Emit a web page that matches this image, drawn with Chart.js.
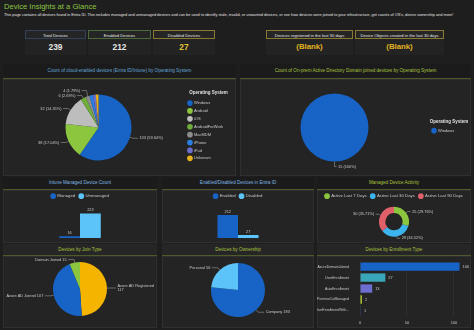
<!DOCTYPE html>
<html>
<head>
<meta charset="utf-8">
<script src="https://cdn.jsdelivr.net/npm/chart.js@4.4.1/dist/chart.umd.min.js"></script>
<style>
  body { margin: 0; width: 474px; height: 330px; background: #1e1e1e; overflow: hidden; position: relative; font-family: "Liberation Sans", Arial, sans-serif; }
  .abs { position: absolute; }
  .hdr { position: absolute; text-align: center; font-size: 4.6px; border-bottom: 1px solid #4d5a2a; background: #1b1b1b; white-space: nowrap; }
  .body { position: absolute; background: #242424; border: 1px solid #2f2f2f; box-sizing: border-box; }
  .kh { position: absolute; height: 9px; line-height: 9px; font-size: 4.2px; color: #e8e8e8; text-align: center; box-sizing: border-box; border: 1px solid; background: #252525; white-space: nowrap; }
  .kv { position: absolute; height: 16px; line-height: 16px; font-weight: bold; text-align: center; background: #232323; }
  canvas { position: absolute; }
</style>
</head>
<body>
<div class="abs" style="left:4px;top:2px;font-size:7.6px;color:#8cc63f;">Device Insights at a Glance</div>
<div id="sub" class="abs" style="left:4px;top:12px;font-size:4px;color:#e6e6e6;white-space:nowrap;transform-origin:0 0;">This page contains all devices found in Entra ID. This includes managed and unmanaged devices and can be used to identify stale, invalid, or unwanted devices, or see how devices were joined to your infrastructure, get counts of OS's, device ownership and more!</div>
<div id="kpis"></div>

<div class="hdr" style="left:3px;top:64px;width:233px;height:14px;line-height:14px;color:#62a6d8;">Count of cloud-enabled devices (Entra ID/Intune) by Operating System</div>
<div class="hdr" style="left:240px;top:64px;width:231px;height:14px;line-height:14px;color:#a9c23f;">Count of On-prem Active Directory Domain joined devices by Operating System</div>
<div class="body" style="left:3px;top:79px;width:233px;height:97px;"></div>
<div class="body" style="left:240px;top:79px;width:231px;height:97px;"></div>

<div class="hdr" style="left:3px;top:177px;width:154px;height:12px;line-height:12px;color:#7fb6e2;">Intune Managed Device Count</div>
<div class="hdr" style="left:162px;top:177px;width:152px;height:12px;line-height:12px;color:#7fb6e2;">Enabled/Disabled Devices in Entra ID</div>
<div class="hdr" style="left:317px;top:177px;width:154px;height:12px;line-height:12px;color:#a9c23f;">Managed Device Activity</div>
<div class="body" style="left:3px;top:190px;width:154px;height:53px;"></div>
<div class="body" style="left:162px;top:190px;width:152px;height:53px;"></div>
<div class="body" style="left:317px;top:190px;width:154px;height:53px;"></div>

<div class="hdr" style="left:3px;top:244px;width:154px;height:11px;line-height:11px;color:#a9c23f;background:#262626;">Devices by Join Type</div>
<div class="hdr" style="left:162px;top:244px;width:152px;height:11px;line-height:11px;color:#a9c23f;background:#262626;">Devices by Ownership</div>
<div class="hdr" style="left:317px;top:244px;width:154px;height:11px;line-height:11px;color:#a9c23f;background:#262626;">Devices by Enrollment Type</div>
<div class="body" style="left:3px;top:256px;width:154px;height:72px;"></div>
<div class="body" style="left:162px;top:256px;width:152px;height:72px;"></div>
<div class="body" style="left:317px;top:256px;width:154px;height:72px;"></div>

<canvas id="osCloud" width="233" height="97" style="left:3px;top:79px;"></canvas>
<canvas id="osOnPrem" width="231" height="97" style="left:240px;top:79px;"></canvas>
<canvas id="managed" width="154" height="53" style="left:3px;top:190px;"></canvas>
<canvas id="enabled" width="152" height="53" style="left:162px;top:190px;"></canvas>
<canvas id="activity" width="154" height="53" style="left:317px;top:190px;"></canvas>
<canvas id="joinType" width="154" height="72" style="left:3px;top:256px;"></canvas>
<canvas id="ownership" width="152" height="72" style="left:162px;top:256px;"></canvas>
<canvas id="enrollment" width="154" height="72" style="left:317px;top:256px;"></canvas>

<script>
const kpiLabels = ['Total Devices', 'Enabled Devices', 'Disabled Devices'];
const kpiValues = [239, 212, 27];
const recentLabels = ['Devices registered in the last 30 days', 'Device Objects created in the last 30 days'];
const recentValues = ['(Blank)', '(Blank)'];

const osCategories = ['Windows', 'Android', 'iOS', 'AndroidForWork', 'MacMDM', 'iPhone', 'iPad', 'Unknown'];
const osCloudCounts = [133, 38, 32, 6, 4, 4, 3, 3];
const osOnPremCategories = ['Windows'];
const osOnPremCounts = [15];

const managedCategories = ['Managed', 'Unmanaged'];
const managedCounts = [16, 223];
const enabledCategories = ['Enabled', 'Disabled'];
const enabledCounts = [212, 27];

const activityCategories = ['Active Last 7 Days', 'Active Last 30 Days', 'Active Last 90 Days'];
const activityCounts = [25, 29, 30];

const joinCategories = ['Azure AD Registered', 'Azure AD Joined', 'Domain Joined'];
const joinCounts = [117, 107, 15];
const ownershipCategories = ['Company', 'Personal'];
const ownershipCounts = [183, 56];

const enrollmentCategories = ['AzureDomainJoined', 'UserEnrollment', 'AutoEnrollment', 'OnPremiseCoManaged', 'UserEnrollmentWithServiceAccount'];
const enrollmentCounts = [106, 27, 13, 2, 1];
const enrollmentTicks = [0, 50, 100];

// kpi cards
const kpiBox = [[25, 61, '#34415a', '#e6e6e6'], [88, 63, '#4b6a3a', '#e6e6e6'], [153, 62, '#8a7a30', '#e3c23a']];
const recentBox = [[266, 87], [355, 89]];
let html = '';
kpiLabels.forEach((l, i) => {
  const [x, w, bc, vc] = kpiBox[i];
  html += `<div class="kh" style="left:${x}px;top:30px;width:${w}px;border-color:${bc}">${l}</div>`;
  html += `<div class="kv" style="left:${x}px;top:39px;width:${w}px;font-size:8.4px;color:${vc}">${kpiValues[i]}</div>`;
});
recentLabels.forEach((l, i) => {
  const [x, w] = recentBox[i];
  html += `<div class="kh" style="left:${x}px;top:30px;width:${w}px;border-color:#8a7a30">${l}</div>`;
  html += `<div class="kv" style="left:${x}px;top:39px;width:${w}px;font-size:7.8px;color:#e3b321">${recentValues[i]}</div>`;
});
document.getElementById('kpis').innerHTML = html;

const sub = document.getElementById('sub');
sub.style.transform = 'scaleX(' + (449 / sub.scrollWidth) + ')';

Chart.defaults.font.family = '"Liberation Sans", Arial, sans-serif';
Chart.defaults.color = '#c8c8c8';
Chart.defaults.animation = false;

const fnt = 4.3;
const lblFnt = 3.9;
const lblColor = '#c8c8c8';

function splitText(ctx, text, maxW) {
  if (!maxW || ctx.measureText(text).width <= maxW) return [text];
  const k = text.lastIndexOf(' ');
  return [text.slice(0, k), text.slice(k + 1)];
}

// labels outside pie slices with leader lines
const pieLabels = {
  id: 'pieLabels',
  afterDatasetsDraw(chart, args, opts) {
    const ctx = chart.ctx;
    const ds = chart.data.datasets[0];
    const total = ds.data.reduce((a, b) => a + b, 0);
    const placed = [];
    const lh = lblFnt * 1.2;
    ctx.save();
    ctx.font = lblFnt + 'px "Liberation Sans"';
    ctx.strokeStyle = '#9a9a9a';
    ctx.fillStyle = lblColor;
    ctx.lineWidth = 0.6;
    chart.getDatasetMeta(0).data.forEach((arc, i) => {
      const a = arc.getProps(['x', 'y', 'startAngle', 'endAngle', 'outerRadius'], true);
      const mid = (a.startAngle + a.endAngle) / 2;
      const c = Math.cos(mid), s = Math.sin(mid);
      const right = c >= -1e-6;
      const x1 = a.x + c * a.outerRadius, y1 = a.y + s * a.outerRadius;
      const x2 = a.x + c * (a.outerRadius + opts.radial);
      let y2 = a.y + s * (a.outerRadius + opts.radial);
      const lines = splitText(ctx, opts.format(chart.data.labels[i], ds.data[i], total), opts.maxWidth);
      const h = lines.length * lh;
      const up = y2 < a.y;
      let shift = 0;
      placed.forEach(b => {
        if (b.right !== right) return;
        if (y2 - h / 2 < b.y + b.h && y2 + h / 2 > b.y) {
          const ny = up ? b.y - h / 2 - 0.3 : b.y + b.h + h / 2 + 0.3;
          shift += Math.abs(ny - y2);
          y2 = ny;
        }
      });
      if (shift > opts.maxShift) return;
      placed.push({ right, y: y2 - h / 2, h });
      const x3 = x2 + (right ? opts.horiz : -opts.horiz);
      ctx.beginPath();
      ctx.moveTo(x1, y1);
      ctx.lineTo(x2, y2);
      ctx.lineTo(x3, y2);
      ctx.stroke();
      ctx.textAlign = right ? 'left' : 'right';
      ctx.textBaseline = 'middle';
      lines.forEach((l, k) => ctx.fillText(l, x3 + (right ? 1.5 : -1.5), y2 - h / 2 + lh * (k + 0.5)));
    });
    ctx.restore();
  }
};

// value labels on bars
const barValues = {
  id: 'barValues',
  afterDatasetsDraw(chart) {
    const ctx = chart.ctx;
    const horizontal = chart.options.indexAxis === 'y';
    ctx.save();
    ctx.font = lblFnt + 'px "Liberation Sans"';
    ctx.fillStyle = lblColor;
    chart.data.datasets.forEach((ds, di) => {
      chart.getDatasetMeta(di).data.forEach((bar, i) => {
        if (horizontal) {
          ctx.textAlign = 'left'; ctx.textBaseline = 'middle';
          ctx.fillText(ds.data[i], bar.x + 3, bar.y);
        } else {
          ctx.textAlign = 'center'; ctx.textBaseline = 'bottom';
          ctx.fillText(ds.data[i], bar.x, bar.y - 1.5);
        }
      });
    });
    ctx.restore();
  }
};

const pctFmt = (l, v, t) => `${v} (${(v / t * 100).toFixed(2).replace(/\.00$/, '')}%)`;
const nameFmt = (l, v) => `${l} ${v}`;

const legendLabels = { usePointStyle: true, pointStyle: 'circle', boxWidth: 4, boxHeight: 4, font: { size: fnt }, color: lblColor };
const legendTitle = { display: true, text: 'Operating System', color: '#e0e0e0', align: 'start', font: { size: 4.5, weight: 'bold' }, padding: { top: 0, bottom: 1 } };

const osColors = ['#1763c6', '#8cc63f', '#bdbdbd', '#6fae3a', '#8d8d8d', '#2a7de1', '#6c6fd0', '#e8b21e'];

new Chart(document.getElementById('osCloud'), {
  type: 'pie',
  data: { labels: osCategories, datasets: [{ data: osCloudCounts, backgroundColor: osColors, borderWidth: 0, radius: 33 }] },
  options: {
    responsive: false,
    layout: { padding: { left: 10, right: 3 } },
    plugins: {
      legend: { position: 'right', labels: { ...legendLabels, font: { size: 4 }, padding: 3.9 }, title: legendTitle },
      tooltip: { enabled: false },
      pieLabels: { radial: 3, horiz: 5, format: pctFmt, maxShift: 5.5 }
    }
  },
  plugins: [pieLabels]
});

const onPrem = new Chart(document.getElementById('osOnPrem'), {
  type: 'pie',
  data: { labels: osOnPremCategories, datasets: [{ data: osOnPremCounts, backgroundColor: ['#1763c6'], borderWidth: 0, radius: 34 }] },
  options: {
    responsive: false,
    layout: { padding: { right: 2 } },
    plugins: {
      legend: { position: 'right', labels: { ...legendLabels, font: { size: 4 }, padding: 3 }, title: legendTitle },
      tooltip: { enabled: false },
      pieLabels: { radial: 5, horiz: 2, format: pctFmt, maxShift: 5 }
    }
  },
  plugins: [pieLabels]
});
// the legend title is wider than its single item, keep room for it
const onPremFit = onPrem.legend.fit.bind(onPrem.legend);
onPrem.legend.fit = function () { onPremFit(); this.width = Math.max(this.width, 40); };
onPrem.update();

function groupedBars(id, cats, vals, ymax) {
  const colors = ['#1763c6', '#5cc4f8'];
  new Chart(document.getElementById(id), {
    type: 'bar',
    data: {
      labels: [''],
      datasets: cats.map((c, i) => ({ label: c, data: [vals[i]], backgroundColor: colors[i], categoryPercentage: 0.27, barPercentage: 1 }))
    },
    options: {
      responsive: false,
      layout: { padding: { bottom: 5 } },
      scales: { x: { display: false }, y: { display: false, min: 0, max: ymax } },
      plugins: {
        legend: { position: 'top', labels: { ...legendLabels, padding: 4 } },
        tooltip: { enabled: false }
      }
    },
    plugins: [barValues]
  });
}
groupedBars('managed', managedCategories, managedCounts, 270);
groupedBars('enabled', enabledCategories, enabledCounts, 275);

new Chart(document.getElementById('activity'), {
  type: 'doughnut',
  data: { labels: activityCategories, datasets: [{ data: activityCounts, backgroundColor: ['#8cc63f', '#3cb4ee', '#e0606a'], borderWidth: 0, radius: 15, cutout: '57%' }] },
  options: {
    responsive: false,
    layout: { padding: { bottom: 8 } },
    plugins: {
      legend: { position: 'top', labels: { ...legendLabels, padding: 4 } },
      tooltip: { enabled: false },
      pieLabels: { radial: 2, horiz: 3, format: pctFmt, maxShift: 5 }
    }
  },
  plugins: [pieLabels]
});

new Chart(document.getElementById('joinType'), {
  type: 'pie',
  data: { labels: joinCategories, datasets: [{ data: joinCounts, backgroundColor: ['#f5b400', '#1763c6', '#8cc63f'], borderWidth: 0, radius: 27 }] },
  options: {
    responsive: false,
    layout: { padding: { top: 2, bottom: 8 } },
    plugins: {
      legend: { display: false },
      tooltip: { enabled: false },
      pieLabels: { radial: 3, horiz: 6, format: nameFmt, maxWidth: 38, maxShift: 5 }
    }
  },
  plugins: [pieLabels]
});

new Chart(document.getElementById('ownership'), {
  type: 'pie',
  data: { labels: ownershipCategories, datasets: [{ data: ownershipCounts, backgroundColor: ['#1763c6', '#5cc4f8'], borderWidth: 0, radius: 27 }] },
  options: {
    responsive: false,
    layout: { padding: { top: 2, bottom: 6 } },
    plugins: {
      legend: { display: false },
      tooltip: { enabled: false },
      pieLabels: { radial: 3, horiz: 6, format: nameFmt, maxShift: 5 }
    }
  },
  plugins: [pieLabels]
});

new Chart(document.getElementById('enrollment'), {
  type: 'bar',
  data: {
    labels: enrollmentCategories,
    datasets: [{ data: enrollmentCounts, backgroundColor: ['#1763c6', '#3aa6b9', '#6c6fd0', '#b5d334', '#1e3d6e'], categoryPercentage: 0.76, barPercentage: 1 }]
  },
  options: {
    responsive: false,
    indexAxis: 'y',
    layout: { padding: { top: 1, right: 3 } },
    scales: {
      x: {
        min: 0, max: 115,
        afterBuildTicks: s => { s.ticks = enrollmentTicks.map(v => ({ value: v })); },
        afterFit: s => { s.height = 12; },
        grid: { color: 'rgba(255,255,255,0.05)', drawTicks: false },
        border: { display: false },
        ticks: { font: { size: lblFnt }, color: lblColor, padding: 5 }
      },
      y: {
        afterFit: s => { s.width = 43; },
        grid: { display: false },
        border: { display: false },
        ticks: {
          font: { size: 3.5 }, color: lblColor, padding: 3,
          callback(v) { const s = this.getLabelForValue(v); return s.length > 18 ? s.slice(0, 18) + '...' : s; }
        }
      }
    },
    plugins: { legend: { display: false }, tooltip: { enabled: false } }
  },
  plugins: [barValues]
});
</script>
</body>
</html>
